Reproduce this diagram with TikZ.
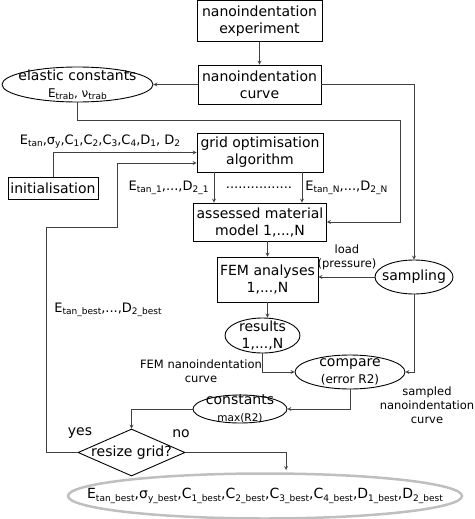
\documentclass[tikz,border=0pt]{standalone}
\usepackage{fontspec}
\setmainfont{DejaVu Sans}
\usetikzlibrary{shapes.geometric}

\newcommand{\lw}[1]{\raisebox{-0.3ex}{\fontsize{9}{9}\selectfont #1}}

\tikzset{
  box/.style={draw, rectangle, align=center, inner sep=1pt, font=\fontsize{14}{17}\selectfont},
  oval/.style={draw, ellipse, align=center, inner sep=-40pt, font=\fontsize{14}{17}\selectfont},
  note/.style={align=center, inner sep=0pt, font=\fontsize{11.5}{14}\selectfont},
  link/.style={->, draw=black!75, line width=0.75pt},
}

\begin{document}
\begin{tikzpicture}[x=1pt, y=-1pt, >=stealth, line width=0.9pt]
    \useasboundingbox (0,0) rectangle (474,519);

    % main chain
    \node[box, minimum width=125pt, minimum height=41pt] (exper) at (259.5,21) {nanoindentation\\experiment};
    \node[box, minimum width=123pt, minimum height=39pt] (curve) at (259.5,84.5) {nanoindentation\\curve};
    \node[oval, minimum width=151pt, minimum height=35pt] (elast) at (77.5,84.5) {elastic constants\\{\fontsize{12}{14}\selectfont E\lw{trab}, ν\lw{trab}}};
    \node[box, minimum width=126pt, minimum height=39pt] (grid) at (260,152.5) {grid optimisation\\algorithm};
    \node[box, minimum width=90pt, minimum height=22pt] (init) at (53,188) {initialisation};
    \node[box, minimum width=133pt, minimum height=38pt] (assess) at (260,222) {assessed material\\model 1,...,N};
    \node[box, minimum width=101pt, minimum height=45pt] (fem) at (267.5,279.5) {FEM analyses\\1,...,N};
    \node[oval, minimum width=78pt, minimum height=34pt] (samp) at (414,277) {sampling};
    \node[oval, minimum width=75pt, minimum height=35pt] (res) at (262.5,335.5) {results\\1,...,N};
    \node[oval, minimum width=110pt, minimum height=34pt] (comp) at (350,372) {compare\\{\fontsize{12}{14}\selectfont(error R2)}};
    \node[oval, minimum width=94pt, minimum height=28pt] (const) at (240,409) {constants\\{\fontsize{10.5}{12}\selectfont max(R2)}};
    \node[draw, diamond, inner sep=-40pt, minimum width=107pt, minimum height=47pt, font=\fontsize{14}{17}\selectfont] (resize) at (131.5,452.5) {resize grid?};
    \node[oval, draw=black!25, line width=2.5pt, minimum width=394pt, minimum height=45pt] (best) at (265,496)
        {E\lw{tan\_best},σ\lw{y\_best},C\lw{1\_best},C\lw{2\_best},C\lw{3\_best},C\lw{4\_best},D\lw{1\_best},D\lw{2\_best}};

    % labels
    \node[note, font=\fontsize{13}{15}\selectfont] (initlab) at (100,142) {E\lw{tan},σ\lw{y},C\lw{1},C\lw{2},C\lw{3},C\lw{4},D\lw{1}, D\lw{2}};
    \node[note, anchor=east, font=\fontsize{13}{15}\selectfont] (lab1) at (209,188) {E\lw{tan\_1},...,D\lw{2\_1}};
    \node[note, font=\fontsize{13}{15}\selectfont] (dots) at (259,188) {................};
    \node[note, anchor=west, font=\fontsize{13}{15}\selectfont] (labn) at (305,188) {E\lw{tan\_N},...,D\lw{2\_N}};
    \node[note] (load) at (347,257) {load\\(pressure)};
    \node[note] (femlab) at (201,371) {FEM nanoindentation\\curve};
    \node[note] (samplab) at (427,405) {sampled\\nanoindentation\\curve};
    \node[note, font=\fontsize{13}{15}\selectfont] (bestlab) at (108,310) {E\lw{tan\_best},...,D\lw{2\_best}};
    \node[note, font=\fontsize{14}{17}\selectfont] (yes) at (80,433) {yes};
    \node[note, font=\fontsize{14}{17}\selectfont] (no) at (181,434) {no};

    % bends
    \coordinate (ktop) at (400,120);
    \coordinate (kleft) at (46,227);
    \coordinate (kmid) at (117,163);
    \coordinate (kend) at (286,470);

    % connectors
    \draw[link] (exper) -- (curve);
    \draw[link] (curve) -- (elast);
    \draw[link] (elast.south) |- (ktop) |- (assess.east);
    \draw[link] (curve.east) -| (samp.north);
    \draw[link] (init.north) |- (grid.west);
    \draw[link] (resize.west) -| (kleft) -| (kmid) -- (kmid -| grid.west);
    \draw[link] ([xshift=-46pt]grid.south) -- ([xshift=-46pt]assess.north);
    \draw[link] ([xshift=42pt]grid.south) -- ([xshift=42pt]assess.north);
    \draw[link] (assess.south -| fem.north) -- (fem.north);
    \draw[link] (samp.west) -- (samp.west -| fem.east);
    \draw[link] (fem.south) -- (fem.south |- res.north);
    \draw[link] (res.south) |- (comp.west);
    \draw[link] (samp.south) |- (comp.east);
    \draw[link] (comp.south) |- (const.east);
    \draw[link] (const.west) -| (resize.north);
    \draw[link] (resize.east) -| (kend);
\end{tikzpicture}
\end{document}
